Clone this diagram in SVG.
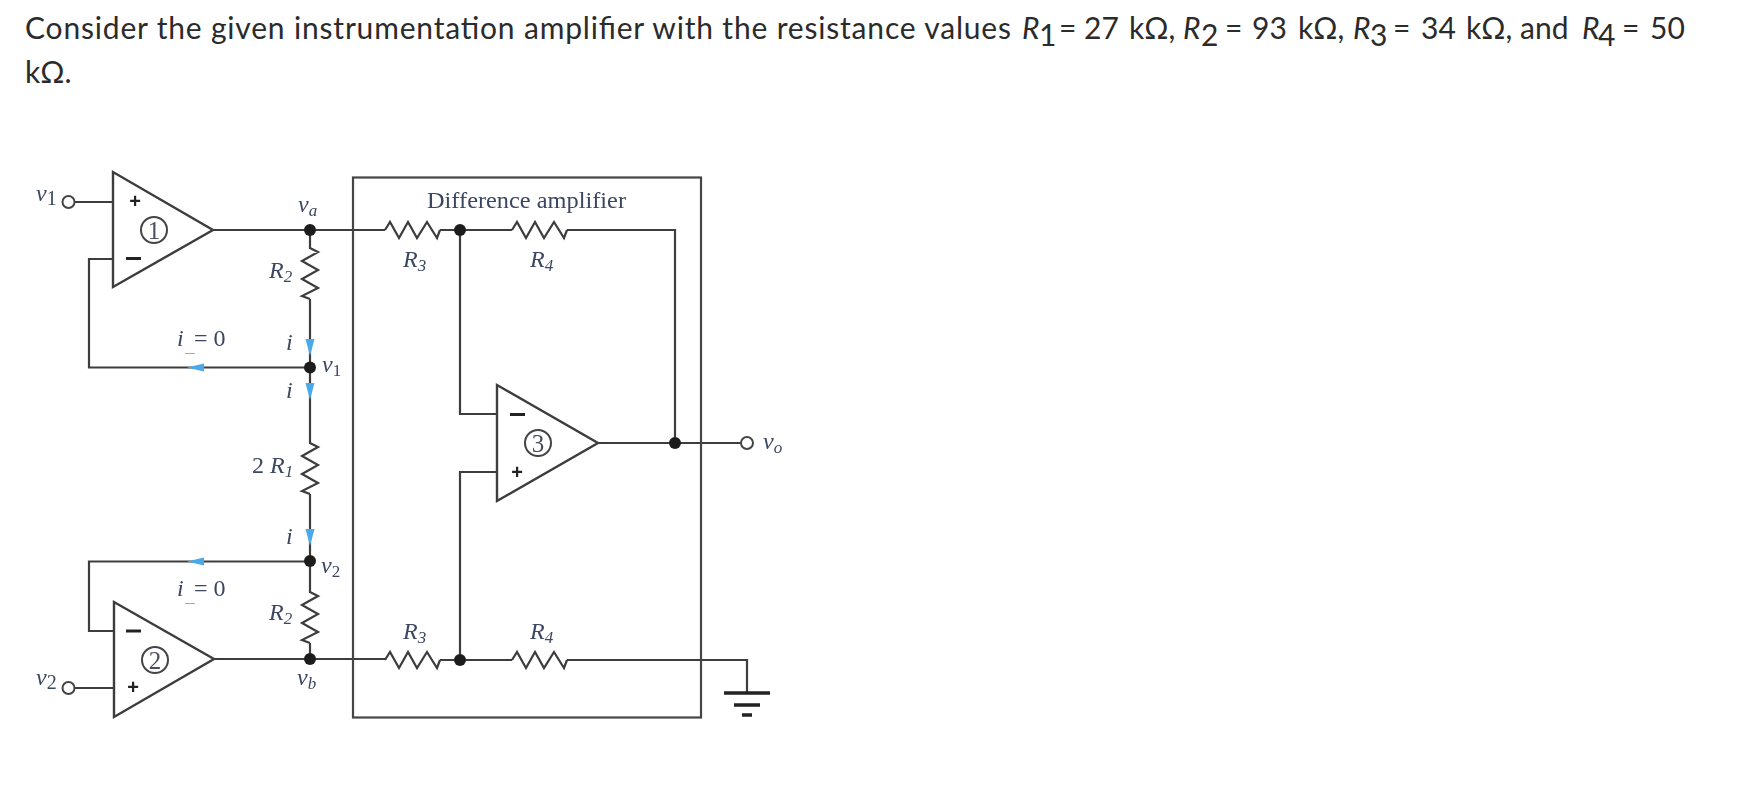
<svg xmlns="http://www.w3.org/2000/svg" width="1744" height="786" viewBox="0 0 1744 786">
<defs>
<filter id="soft" x="-5%" y="-5%" width="110%" height="110%"><feGaussianBlur stdDeviation="0.55"/></filter>
<polyline id="rv" points="0,0 0,5 8,9 -8,18 8,27 -8,36 8,45 -8,53 0,56"/>
<polyline id="rh" points="0,0 5,-8 14,8 23,-8 32,8 42,-8 52,8 55,0"/>
<polygon id="ad" points="-4.5,0 4.5,0 0,17"/>
<polygon id="al" points="0,0 17,-4 17,4"/>
</defs>
<style>
.h{font-family:Lato,"Liberation Sans",sans-serif;font-size:30px;fill:#2b2b2b}
.hi{font-style:italic}
.w{fill:none;stroke:#3c3c3c;stroke-width:2.2;stroke-linejoin:miter}
.o{fill:#fff;stroke:#3c3c3c;stroke-width:2.4}
.p{fill:#fff;stroke:#444;stroke-width:2}
.d{fill:#1e1e1e}
.a{fill:#4aa9ea}
.l{font-family:"Liberation Serif",serif;font-style:italic;font-size:24px;fill:#3b4660}
.s{font-size:17px}
.n{font-family:"Liberation Serif",serif;font-size:24px;fill:#3b4660}
.c{font-family:"Liberation Serif",serif;font-size:25px;fill:#4a4f5c;text-anchor:middle}
.m{font-family:"Liberation Sans",sans-serif;font-weight:bold;font-size:20px;fill:#222;text-anchor:middle}
.t{stroke:#222;stroke-width:3;fill:none}
.g{stroke:#222;stroke-width:3.4;fill:none}
</style>
<g id="question">
<text class="h" x="25" y="39" textLength="986" lengthAdjust="spacing">Consider the given instrumentation amplifier with the resistance values</text>
<text class="h hi" x="1022" y="39">R</text><text class="h" x="1039" y="46">1</text><text class="h" x="1059" y="39">=</text><text class="h" x="1084" y="39">27</text><text class="h" x="1129" y="39">kΩ,</text>
<text class="h hi" x="1183" y="39">R</text><text class="h" x="1201" y="46">2</text><text class="h" x="1225" y="39">=</text><text class="h" x="1252" y="39">93</text><text class="h" x="1298" y="39">kΩ,</text>
<text class="h hi" x="1353" y="39">R</text><text class="h" x="1370" y="46">3</text><text class="h" x="1393" y="39">=</text><text class="h" x="1421" y="39">34</text><text class="h" x="1466" y="39">kΩ,</text>
<text class="h" x="1520" y="39">and</text>
<text class="h hi" x="1582" y="39">R</text><text class="h" x="1598" y="46">4</text><text class="h" x="1622" y="39">=</text><text class="h" x="1650" y="39">50</text>
<text class="h" x="25" y="83">kΩ.</text>
</g>
<g filter="url(#soft)">
<g id="connectors">
<path class="w" d="M74 202H113M214 230H385M440 230H512M567 230H675V443"/>
<path class="w" d="M113 259H89V367.5H310"/>
<path class="w" d="M310 230V243M310 299V438M310 494V587M310 643V659"/>
<path class="w" d="M113 631H89V561.5H310"/>
<path class="w" d="M74 688H113M214 659H385M440 660H512M567 660H747V693"/>
<path class="w" d="M460 230V414H497M460 660V472H497M598 443H741"/>
</g>
<g id="difference-amplifier"><rect x="353" y="177.5" width="348" height="540" fill="none" stroke="#444" stroke-width="2.2"/>
<text class="n" x="427" y="208" textLength="199" lengthAdjust="spacingAndGlyphs">Difference amplifier</text></g>
<g id="opamp1"><polygon class="o" points="113,172 113,287 213,230"/><circle class="p" cx="154" cy="230" r="13"/><text class="c" x="154" y="238.500">1</text><text class="m" x="135" y="208">+</text><path class="t" d="M126 258.500H141"/></g>
<g id="opamp2"><polygon class="o" points="114,602 114,717 214,659"/><circle class="p" cx="155" cy="660" r="13"/><text class="c" x="155" y="668.500">2</text><text class="m" x="133" y="694">+</text><path class="t" d="M126 631H141"/></g>
<g id="opamp3"><polygon class="o" points="497,385 497,501 598,443"/><circle class="p" cx="538" cy="443" r="13"/><text class="c" x="538" y="451.500">3</text><text class="m" x="517" y="479">+</text><path class="t" d="M510 414.500H525"/></g>
<g id="r2-top"><use href="#rv" class="w" x="310" y="243"/><text class="l" x="269" y="278">R<tspan class="s" dy="4">2</tspan></text></g>
<g id="r1-mid"><use href="#rv" class="w" x="310" y="438"/><text class="l" x="252" y="473"><tspan style="font-style:normal">2 </tspan>R<tspan class="s" dy="4">1</tspan></text></g>
<g id="r2-bot"><use href="#rv" class="w" x="310" y="587"/><text class="l" x="269" y="620">R<tspan class="s" dy="4">2</tspan></text></g>
<g id="r3-top"><use href="#rh" class="w" x="385" y="230"/><text class="l" x="403" y="267">R<tspan class="s" dy="4">3</tspan></text></g>
<g id="r4-top"><use href="#rh" class="w" x="512" y="230"/><text class="l" x="530" y="267">R<tspan class="s" dy="4">4</tspan></text></g>
<g id="r3-bot"><use href="#rh" class="w" x="385" y="660"/><text class="l" x="403" y="639">R<tspan class="s" dy="4">3</tspan></text></g>
<g id="r4-bot"><use href="#rh" class="w" x="512" y="660"/><text class="l" x="530" y="639">R<tspan class="s" dy="4">4</tspan></text></g>
<g id="junctions"><circle class="d" cx="310" cy="230" r="6"/><circle class="d" cx="310" cy="367.500" r="6"/><circle class="d" cx="310" cy="561" r="6"/><circle class="d" cx="310" cy="659" r="6"/><circle class="d" cx="460" cy="230" r="6"/><circle class="d" cx="460" cy="660" r="6"/><circle class="d" cx="675" cy="443" r="6"/></g>
<g id="terminal-v1"><circle class="p" cx="68.500" cy="202" r="6"/><text class="l" x="36" y="201">v<tspan class="s" style="font-style:normal;font-size:20px" dy="4">1</tspan></text></g>
<g id="terminal-v2"><circle class="p" cx="68.500" cy="688" r="6"/><text class="l" x="36" y="685">v<tspan class="s" style="font-style:normal;font-size:20px" dy="4">2</tspan></text></g>
<g id="terminal-vo"><circle class="p" cx="747" cy="443" r="6"/><text class="l" x="763" y="449">v<tspan class="s" dy="4">o</tspan></text></g>
<g id="ground"><path class="g" d="M724 693H770M734 705H760M742 715H752"/></g>
<g id="node-labels">
<text class="l" x="298" y="212">v<tspan class="s" dy="4">a</tspan></text>
<text class="l" x="297" y="685">v<tspan class="s" dy="4">b</tspan></text>
<text class="l" x="322" y="372">v<tspan class="s" style="font-style:normal" dy="4">1</tspan></text>
<text class="l" x="321" y="573">v<tspan class="s" style="font-style:normal" dy="4">2</tspan></text>
</g>
<g id="currents">
<use href="#ad" class="a" x="310" y="339"/><use href="#ad" class="a" x="310" y="383"/><use href="#ad" class="a" x="310" y="529"/>
<use href="#al" class="a" x="187" y="367.500"/><use href="#al" class="a" x="187" y="561.500"/>
<text class="l" x="286" y="350">i</text><text class="l" x="286" y="398">i</text><text class="l" x="286" y="544">i</text>
<text class="l" x="177" y="346">i</text><text class="n" x="194" y="346">= 0</text>
<text class="l" x="177" y="596">i</text><text class="n" x="194" y="596">= 0</text>
<path d="M185 353.500H195M185 603.500H195" stroke="#aaa" stroke-width="1"/>
</g>
</g>
</svg>
